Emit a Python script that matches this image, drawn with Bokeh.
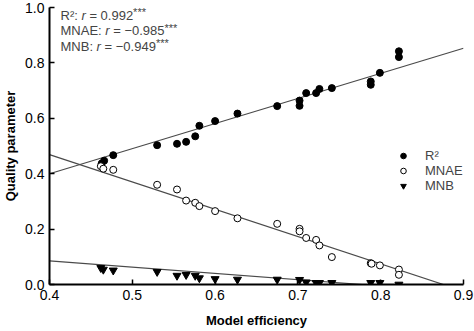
from bokeh.plotting import figure
from bokeh.models import Range1d, FixedTicker, NumeralTickFormatter, Legend, LegendItem, Label
from bokeh.embed import file_html
from bokeh.resources import INLINE

# R2 (filled circles)
r2_x = [0.463, 0.466, 0.477, 0.530, 0.554, 0.565, 0.576, 0.581, 0.600, 0.627, 0.675,
        0.702, 0.702, 0.710, 0.722, 0.726, 0.741, 0.788, 0.788, 0.799, 0.822, 0.822]
r2_y = [0.437, 0.447, 0.467, 0.503, 0.508, 0.515, 0.535, 0.573, 0.590, 0.617, 0.644,
        0.664, 0.645, 0.691, 0.691, 0.706, 0.709, 0.733, 0.721, 0.764, 0.842, 0.821]

# MNAE (open circles)
mnae_x = [0.462, 0.465, 0.477, 0.530, 0.554, 0.565, 0.576, 0.581, 0.600, 0.627, 0.675,
          0.702, 0.702, 0.710, 0.722, 0.726, 0.741, 0.788, 0.789, 0.799, 0.822, 0.822]
mnae_y = [0.427, 0.418, 0.414, 0.360, 0.343, 0.303, 0.295, 0.283, 0.265, 0.239, 0.219,
          0.201, 0.192, 0.168, 0.161, 0.141, 0.099, 0.077, 0.075, 0.069, 0.054, 0.035]

# MNB (down triangles)
mnb_x = [0.462, 0.465, 0.477, 0.530, 0.554, 0.565, 0.576, 0.581, 0.600, 0.627, 0.675,
         0.702, 0.710, 0.722, 0.726, 0.741, 0.788, 0.799, 0.822]
mnb_y = [0.060, 0.054, 0.051, 0.046, 0.032, 0.035, 0.032, 0.023, 0.020, 0.018, 0.018,
         0.017, 0.008, 0.006, 0.006, 0.006, 0.006, 0.006, 0.000]

# Regression lines: value at x=0.4 and slope
fit_start = 0.4
r2_fit = (0.400, 0.906)
mnae_fit = (0.469, -0.986)
mnb_fit = (0.085, -0.225)

x_ticks = [0.4, 0.5, 0.6, 0.7, 0.8, 0.9]
y_ticks = [0.0, 0.2, 0.4, 0.6, 0.8, 1.0]

stat_names = ["R²:", "MNAE:", "MNB:"]
stat_r = ["0.992", "\u22120.985", "\u22120.949"]

FONT = "Liberation Sans"
NB = "\u00a0"

p = figure(width=474, height=331, output_backend="svg", toolbar_location=None,
           x_range=Range1d(0.4, 0.9), y_range=Range1d(0.0, 1.0),
           min_border_left=47, min_border_right=11, min_border_top=7, min_border_bottom=47)
p.outline_line_color = None
p.xgrid.visible = False
p.ygrid.visible = False
p.background_fill_color = "white"
p.border_fill_color = "white"

def line_pts(fit, x_end_max=0.9):
    y0, s = fit
    x_end = x_end_max
    if s < 0:
        x_end = min(x_end_max, fit_start - y0 / s)
    return [fit_start, x_end], [y0, y0 + s * (x_end - fit_start)]

for fit in (r2_fit, mnae_fit, mnb_fit):
    xs, ys = line_pts(fit)
    p.line(xs, ys, line_color="#4a4a4a", line_width=1.2)

r_r2 = p.scatter(r2_x, r2_y, marker="circle", size=7, fill_color="black", line_color="black")
r_mnae = p.scatter(mnae_x, mnae_y, marker="circle", size=7, fill_color="white",
                   line_color="black", line_width=1)
r_mnb = p.scatter(mnb_x, mnb_y, marker="inverted_triangle", size=8, fill_color="black",
                  line_color="black")

for ax in (p.xaxis[0], p.yaxis[0]):
    ax.axis_line_width = 2
    ax.axis_line_color = "black"
    ax.major_tick_in = 5
    ax.major_tick_out = 0
    ax.major_tick_line_width = 1.5
    ax.minor_tick_line_color = None
    ax.major_label_text_font = FONT
    ax.major_label_text_font_size = "14px"
    ax.major_label_text_color = "black"
    ax.major_label_standoff = 5
    ax.axis_label_text_font = FONT
    ax.axis_label_text_font_size = "13px"
    ax.axis_label_text_font_style = "bold"
    ax.axis_label_text_color = "black"
    ax.formatter = NumeralTickFormatter(format="0.0")

p.xaxis[0].ticker = FixedTicker(ticks=x_ticks)
p.yaxis[0].ticker = FixedTicker(ticks=y_ticks)
p.xaxis[0].axis_label = "Model efficiency"
p.yaxis[0].axis_label = "Quality parameter"
p.xaxis[0].axis_label_standoff = 10
p.yaxis[0].axis_label_standoff = 4

legend = Legend(items=[
    LegendItem(label="R²", renderers=[r_r2]),
    LegendItem(label="MNAE", renderers=[r_mnae]),
    LegendItem(label="MNB", renderers=[r_mnb]),
], location=(347, 91), padding=0, margin=0, spacing=0,
   glyph_width=14, glyph_height=15, label_height=15, label_standoff=15,
   label_text_font=FONT, label_text_font_size="13px",
   border_line_color=None, background_fill_alpha=0)
p.add_layout(legend, "center")

# annotation text (screen units relative to the plot frame's bottom-left)
FRAME_H = 277
SIZE = 13
widths = {'M': 0.833, 'N': 0.722, 'A': 0.667, 'E': 0.667, 'B': 0.667, 'R': 0.722,
          ':': 0.278, ' ': 0.278, NB: 0.278, '=': 0.584, '\u2212': 0.584, '.': 0.278,
          'r': 0.333, '²': 0.333, '*': 0.389}

def w(s, size=SIZE):
    return sum(widths.get(c, 0.556) for c in s) * size

for i, (pre, rv) in enumerate(zip(stat_names, stat_r)):
    yc = 7.5 + 15.7 * i  # distance from frame top
    y = FRAME_H - yc
    x0 = 11
    pre_t = pre + NB
    post = NB + "=" + NB + rv
    p.add_layout(Label(x=x0, y=y, x_units="screen", y_units="screen", text=pre_t,
                       text_font=FONT, text_font_size=f"{SIZE}px", text_baseline="middle"))
    x1 = x0 + w(pre_t)
    p.add_layout(Label(x=x1, y=y, x_units="screen", y_units="screen", text="r",
                       text_font=FONT, text_font_size=f"{SIZE}px", text_font_style="italic",
                       text_baseline="middle"))
    x2 = x1 + w("r")
    p.add_layout(Label(x=x2, y=y, x_units="screen", y_units="screen", text=post,
                       text_font=FONT, text_font_size=f"{SIZE}px", text_baseline="middle"))
    x3 = x2 + w(post)
    p.add_layout(Label(x=x3, y=y + 3, x_units="screen", y_units="screen", text="***",
                       text_font=FONT, text_font_size="11px", text_baseline="middle"))

open("out.html", "w").write(file_html(p, INLINE))
